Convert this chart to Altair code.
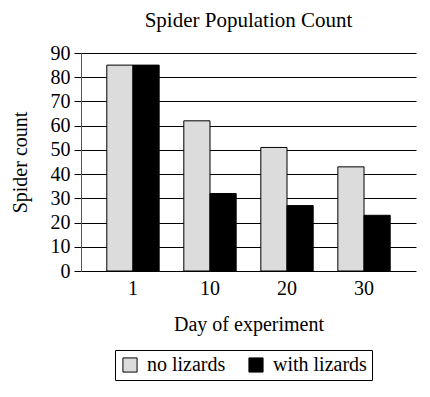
import altair as alt
import pandas as pd

days = ["1", "10", "20", "30"]
no_lizards = [85, 62, 51, 43]
with_lizards = [85, 32, 27, 23]
series = ["no lizards", "with lizards"]

rows = []
for d, a, b in zip(days, no_lizards, with_lizards):
    rows.append({"day": d, "group": series[0], "count": a})
    rows.append({"day": d, "group": series[1], "count": b})
df = pd.DataFrame(rows)

FONT = "Liberation Serif"

chart = alt.Chart(df).mark_bar(stroke="black", strokeWidth=1).encode(
    x=alt.X("day:N", sort=days, title="Day of experiment",
            scale=alt.Scale(paddingInner=0.32, paddingOuter=0.335),
            axis=alt.Axis(labelAngle=0, ticks=False, domain=False, labelPadding=7,
                          titlePadding=16, labelFontSize=20, titleFontSize=20,
                          labelColor="black", titleColor="black", titleFontWeight="normal")),
    xOffset=alt.XOffset("group:N", sort=series),
    y=alt.Y("count:Q", title="Spider count",
            scale=alt.Scale(domain=[0, 90]),
            axis=alt.Axis(values=list(range(0, 91, 10)), tickSize=7, tickColor="black",
                          domainColor="#555555", gridColor="black", gridOpacity=1,
                          labelFontSize=20, titleFontSize=20, labelPadding=4, titlePadding=20,
                          labelColor="black", titleColor="black", titleFontWeight="normal")),
    color=alt.Color("group:N", sort=series,
                    scale=alt.Scale(domain=series, range=["#dcdcdc", "#000000"]),
                    legend=alt.Legend(title=None, orient="none", direction="horizontal",
                                      legendX=34, legendY=297,
                                      symbolType="square", symbolSize=200,
                                      symbolStrokeColor="black", symbolStrokeWidth=1,
                                      labelFontSize=20, labelColor="black", labelOffset=7,
                                      strokeColor="black", padding=5,
                                      columnPadding=20)),
).properties(
    width=335, height=218,
    padding={"left": 2, "top": 2, "right": 5, "bottom": 5},
    title=alt.TitleParams("Spider Population Count", fontSize=21, font=FONT,
                          fontWeight="normal", color="black", offset=12)
).configure(font=FONT).configure_view(stroke=None).configure_axis(
    labelFont=FONT, titleFont=FONT, gridWidth=1
).configure_legend(labelFont=FONT)

chart.save("out.html", embed_options={"renderer": "svg", "actions": False})
